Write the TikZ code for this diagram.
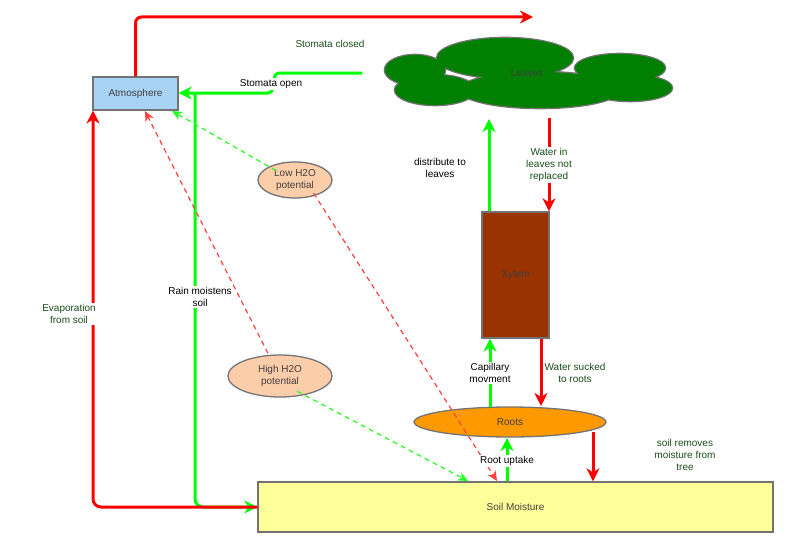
\documentclass[tikz,border=0pt]{standalone}
\usepackage{fontspec}
\setmainfont{Liberation Sans}
\usetikzlibrary{shapes.geometric,arrows.meta}
\definecolor{darkleaf}{HTML}{007F00}
\definecolor{labelgreen}{HTML}{1A4D1A}
\definecolor{skyblue}{HTML}{A9D3F5}
\definecolor{barkbrown}{HTML}{993300}
\definecolor{rootorange}{HTML}{FF9900}
\definecolor{peach}{HTML}{FCCDA9}
\definecolor{soilyellow}{HTML}{FFFF99}
\tikzset{
  box/.style={draw=black!55, line width=1.3pt, inner sep=0pt, font=\fontsize{10}{12}\selectfont, text=black!75},
  blob/.style={box, ellipse, align=center},
  lbl/.style={font=\fontsize{10}{12}\selectfont, align=center, inner sep=1pt},
  dlbl/.style={lbl, text=labelgreen},
  redflow/.style={draw=red, line width=3pt, -{Stealth[length=13pt,width=13pt,inset=4pt]}},
  greenflow/.style={draw=green, line width=3pt, -{Stealth[length=13pt,width=13pt,inset=4pt]}},
  reddash/.style={draw=red!75, line width=1.2pt, dash pattern=on 5pt off 4pt, -{Stealth[length=10pt,width=9pt,inset=3pt]}},
  greendash/.style={draw=green!85, line width=1.2pt, dash pattern=on 5pt off 4pt, -{Stealth[length=10pt,width=9pt,inset=3pt]}},
  puffs/.style={insert path={(415,70) ellipse (30 and 15) (435,90) ellipse (40 and 15) (505,58) ellipse (68 and 20) (540,90) ellipse (80 and 18) (620,68) ellipse (45 and 14) (630,88) ellipse (42 and 13)}},
}
\begin{document}
\begin{tikzpicture}[x=1pt,y=-1pt]
  \useasboundingbox (0,0) rectangle (800,551);
  % cloud of leaves
  \draw[black!55, line width=2.6pt, puffs];
  \fill[darkleaf, puffs];
  % boxes
  \node[box, fill=skyblue, minimum width=85, minimum height=33] (atmo) at (135.5,93.5) {Atmosphere};
  \node[box, draw=none, minimum width=285, minimum height=68] (leaves) at (527,73) {Leaves};
  \node[box, fill=barkbrown, minimum width=67, minimum height=126] (xylem) at (515.5,275) {Xylem};
  \node[blob, fill=rootorange, minimum width=192, minimum height=30] (roots) at (510,422) {Roots};
  \node[box, fill=soilyellow, minimum width=515, minimum height=50] (soil) at (515.5,507) {Soil Moisture};
  \node[blob, fill=peach, minimum width=74, minimum height=36] (low) at (295,180) {Low H2O\\potential};
  \node[blob, fill=peach, minimum width=104, minimum height=42] (high) at (280,376) {High H2O\\potential};
  \coordinate (topend) at (533,17);
  \coordinate (stoma) at (362,73);
  % solid flows
  \draw[redflow, rounded corners=6] (atmo.north) |- (topend);
  \draw[greenflow, rounded corners=4] (stoma) -- (275,73) -- (272,93) -- (atmo.east |- 0,93);
  \draw[greenflow, rounded corners=8] (195,93) -- (195,507) -- (soil.west);
  \draw[redflow, rounded corners=8] (soil.west) -- (93,507) -- (93,110.5);
  \draw[greenflow] (xylem.north -| 489,0) -- (489,119);
  \draw[redflow] (549,118) -- (xylem.north -| 549,0);
  \draw[greenflow] (490,407) -- (xylem.south -| 490,0);
  \draw[redflow] (xylem.south -| 541,0) -- (541,406);
  \draw[greenflow] (soil.north -| 507,0) -- (507,438);
  \draw[redflow] (593,432) -- (soil.north -| 593,0);
  % dashed
  \draw[greendash] (low.north west) ++(8,4) -- (172,111);
  \draw[reddash] (low.south east) ++(-8,0) -- (497,481);
  \draw[reddash] (high.north) ++(-12,-1) -- (145,111);
  \draw[greendash] (high.south east) ++(-20,0) -- (468,481);
  % labels
  \node[dlbl] (lclosed) at (330,44) {Stomata closed};
  \node[lbl, fill=white] (lopen) at (271,84) {Stomata open};
  \node[lbl, fill=white] (lrain) at (200,297) {Rain moistens\\soil};
  \node[dlbl, fill=white] (levap) at (69,314) {Evaporation\\from soil};
  \node[lbl] (ldist) at (440,168) {distribute to\\leaves};
  \node[dlbl, fill=white] (lwater) at (549,165) {Water in\\leaves not\\replaced};
  \node[lbl, fill=white] (lcap) at (490,373) {Capillary\\movment};
  \node[dlbl, fill=white] (lsuck) at (575,373) {Water sucked\\to roots};
  \node[lbl, fill=white] (luptake) at (507,461) {Root uptake};
  \node[dlbl] (lremove) at (685,455) {soil removes\\moisture from\\tree};
\end{tikzpicture}
\end{document}
